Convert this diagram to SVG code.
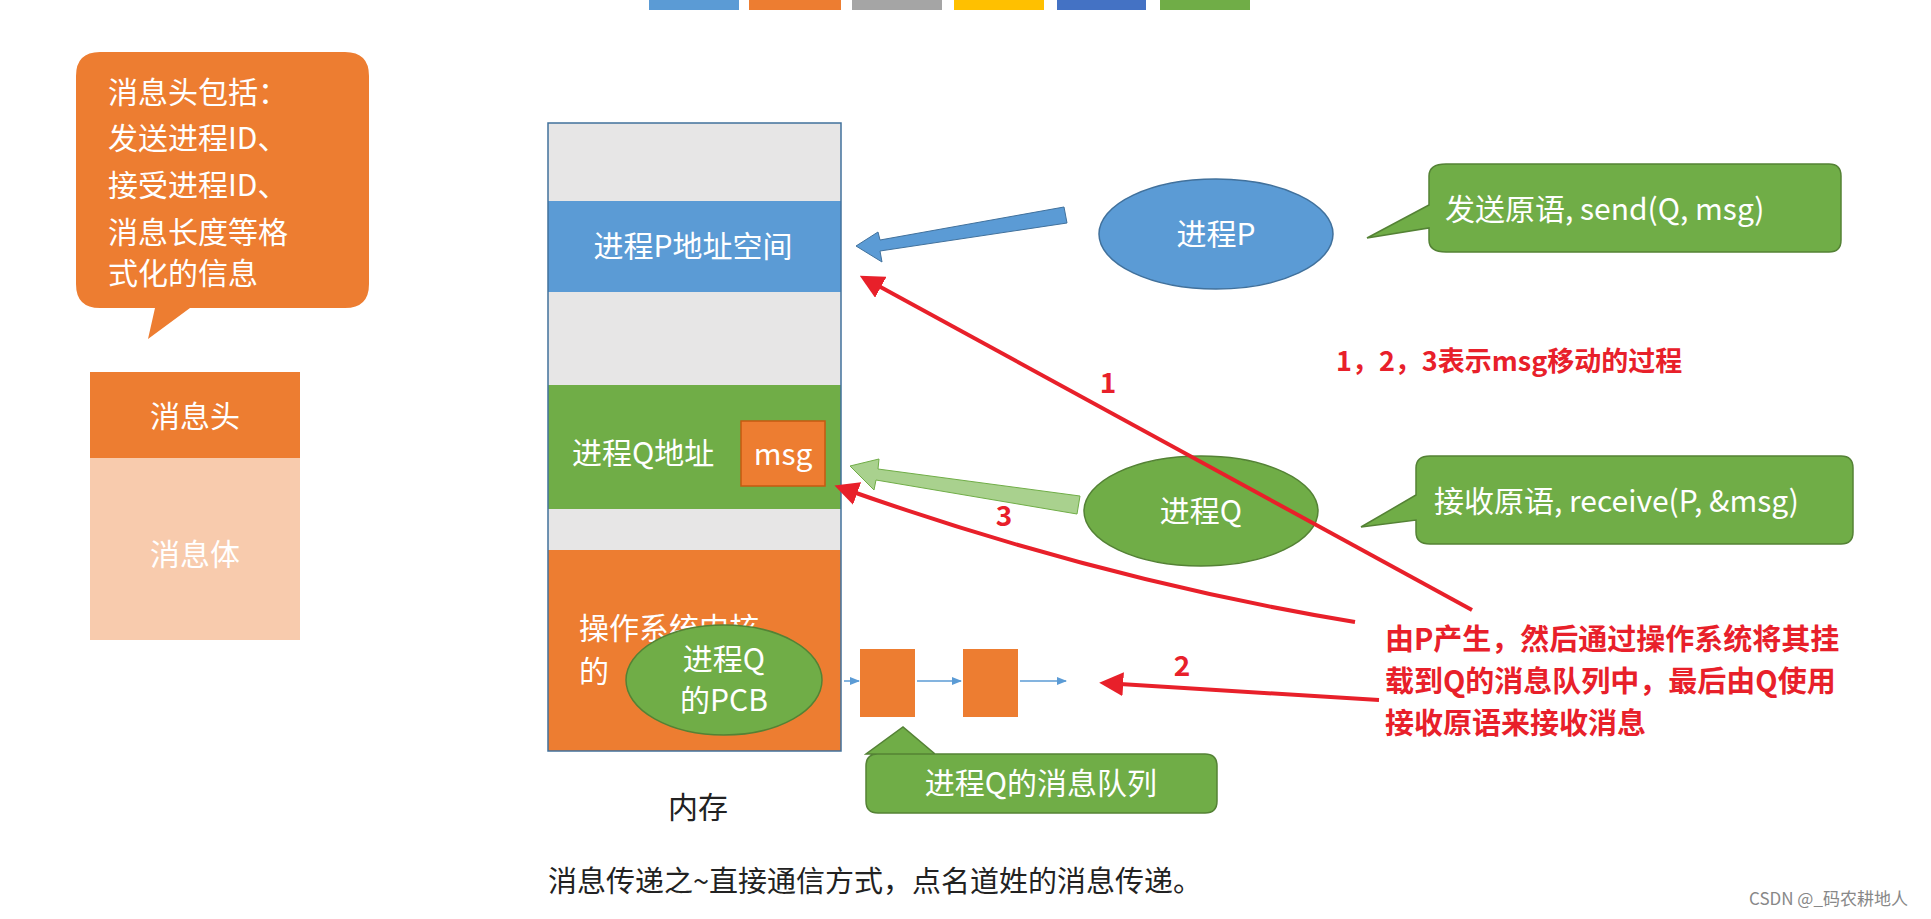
<svg xmlns="http://www.w3.org/2000/svg" width="1931" height="919" viewBox="0 0 1931 919">
<style>
text{font-family:"Noto Sans CJK SC","Noto Sans",sans-serif}
.w{fill:#fff;font-size:30px}
.r{fill:#e8202a;font-weight:bold}
.g{fill:#70ad47;stroke:#548235;stroke-width:1.5}
.ra{stroke:#e8202a;stroke-width:4;fill:none;marker-end:url(#rh)}
.ba{stroke:#5b9bd5;stroke-width:1.5;marker-end:url(#bh)}
</style>
<defs>
<marker id="rh" viewBox="0 0 10 10" refX="8" refY="5" markerWidth="6" markerHeight="6" orient="auto"><path d="M0,0L10,5L0,10z" fill="#e8202a"/></marker>
<marker id="bh" viewBox="0 0 10 10" refX="9" refY="5" markerWidth="7" markerHeight="7" orient="auto"><path d="M0,1L10,5L0,9z" fill="#5b9bd5"/></marker>
</defs>
<rect width="1931" height="919" fill="#fff"/>
<g id="bars">
<rect x="649" y="0" width="90" height="10" fill="#5b9bd5"/><rect x="749" y="0" width="92" height="10" fill="#ed7d31"/><rect x="852" y="0" width="90" height="10" fill="#a5a5a5"/><rect x="954" y="0" width="90" height="10" fill="#ffc000"/><rect x="1057" y="0" width="89" height="10" fill="#4472c4"/><rect x="1160" y="0" width="90" height="10" fill="#70ad47"/>
</g>
<g id="header-bubble">
<path d="M100,52H345Q369,52 369,76V284Q369,308 345,308H190L148,339L155,308H100Q76,308 76,284V76Q76,52 100,52Z" fill="#ed7d31"/>
<text class="w" x="108" y="103" font-size="31">消息头包括：</text>
<text class="w" x="108" y="149">发送进程ID、</text>
<text class="w" x="108" y="196">接受进程ID、</text>
<text class="w" x="108" y="243">消息长度等格</text>
<text class="w" x="108" y="284">式化的信息</text>
</g>
<g id="msg-struct">
<rect x="90" y="372" width="210" height="86" fill="#ed7d31"/>
<rect x="90" y="458" width="210" height="182" fill="#f8cbad"/>
<text class="w" x="195" y="427" text-anchor="middle">消息头</text>
<text class="w" x="195" y="565" text-anchor="middle">消息体</text>
</g>
<g id="memory">
<rect x="548" y="123" width="293" height="78" fill="#e7e6e6"/>
<rect x="548" y="201" width="293" height="91" fill="#5b9bd5"/>
<rect x="548" y="292" width="293" height="93" fill="#e7e6e6"/>
<rect x="548" y="385" width="293" height="124" fill="#70ad47"/>
<rect x="548" y="509" width="293" height="41" fill="#e7e6e6"/>
<rect x="548" y="550" width="293" height="201" fill="#ed7d31"/>
<rect x="548" y="123" width="293" height="628" fill="none" stroke="#41719c" stroke-width="1.5"/>
<text class="w" x="693" y="257" text-anchor="middle">进程P地址空间</text>
<text class="w" x="572" y="464">进程Q地址</text>
<rect x="741" y="421" width="84" height="65" fill="#ed7d31" stroke="#c55a11" stroke-width="1.5"/>
<text class="w" x="783" y="465" text-anchor="middle" font-size="22">msg</text>
<text class="w" x="579" y="639" font-size="32">操作系统内核</text>
<text class="w" x="579" y="682" font-size="32">的</text>
<text x="698" y="818" text-anchor="middle" font-size="30" fill="#222">内存</text>
</g>
<g id="pcb">
<ellipse cx="724" cy="680" rx="98" ry="55" class="g"/>
<text class="w" x="724" y="670" text-anchor="middle">进程Q</text>
<text class="w" x="724" y="711" text-anchor="middle">的PCB</text>
</g>
<g id="queue">
<rect x="860" y="649" width="55" height="68" fill="#ed7d31"/>
<rect x="963" y="649" width="55" height="68" fill="#ed7d31"/>
<path d="M866,754H1205Q1217,754 1217,766V801Q1217,813 1205,813H878Q866,813 866,801V766Q866,754 878,754H935L903,727Z" class="g"/>
<text class="w" x="1041" y="794" text-anchor="middle">进程Q的消息队列</text>
</g>
<g id="procP">
<ellipse cx="1216" cy="234" rx="117" ry="55" fill="#5b9bd5" stroke="#41719c" stroke-width="1.5"/>
<text class="w" x="1216" y="245" text-anchor="middle">进程P</text>
<path d="M1446,164H1829Q1841,164 1841,176V240Q1841,252 1829,252H1446Q1429,252 1429,240V228L1367,238L1429,205V176Q1429,164 1446,164Z" class="g"/>
<text class="w" x="1445" y="220">发送原语, send(Q, msg)</text>
</g>
<g id="procQ">
<ellipse cx="1201" cy="511" rx="117" ry="55" class="g"/>
<text class="w" x="1201" y="522" text-anchor="middle">进程Q</text>
<path d="M1430,456H1841Q1853,456 1853,468V532Q1853,544 1841,544H1430Q1416,544 1416,532V520L1361,527L1416,495V468Q1416,456 1430,456Z" class="g"/>
<text class="w" x="1434" y="512">接收原语, receive(P, &amp;msg)</text>
</g>
<g id="notes">
<text class="r" x="1336" y="371" font-size="27">1，2，3表示msg移动的过程</text>
<text class="r" x="1385" y="650" font-size="29">由P产生，然后通过操作系统将其挂</text>
<text class="r" x="1385" y="692" font-size="29">载到Q的消息队列中，最后由Q使用</text>
<text class="r" x="1385" y="734" font-size="29">接收原语来接收消息</text>
<text class="r" x="1108" y="393" font-size="28" text-anchor="middle">1</text>
<text class="r" x="1004" y="526" font-size="28" text-anchor="middle">3</text>
<text class="r" x="1182" y="676" font-size="28" text-anchor="middle">2</text>
<text x="548" y="892" font-size="29" fill="#222">消息传递之~直接通信方式，点名道姓的消息传递。</text>
<text x="1749" y="905" font-size="17" fill="#888">CSDN @_码农耕地人</text>
</g>
<g id="connectors">
<polygon points="1064,207 1067,223 880,251 882,262 856,246 878,232 880,240" fill="#5b9bd5" stroke="#41719c" stroke-width="1"/>
<polygon points="1080,496 1077,514 876,480 874,490 850,466 879,459 878,469" fill="#a9d18e" stroke="#70ad47" stroke-width="1"/>
<line x1="844" y1="681" x2="859" y2="681" class="ba"/>
<line x1="917" y1="681" x2="961" y2="681" class="ba"/>
<line x1="1020" y1="681" x2="1066" y2="681" class="ba"/>
<line x1="1472" y1="610" x2="864" y2="278" class="ra"/>
<path d="M1355,622Q1100,580 839,487" class="ra"/>
<line x1="1379" y1="700" x2="1104" y2="683" class="ra"/>
</g>
</svg>
